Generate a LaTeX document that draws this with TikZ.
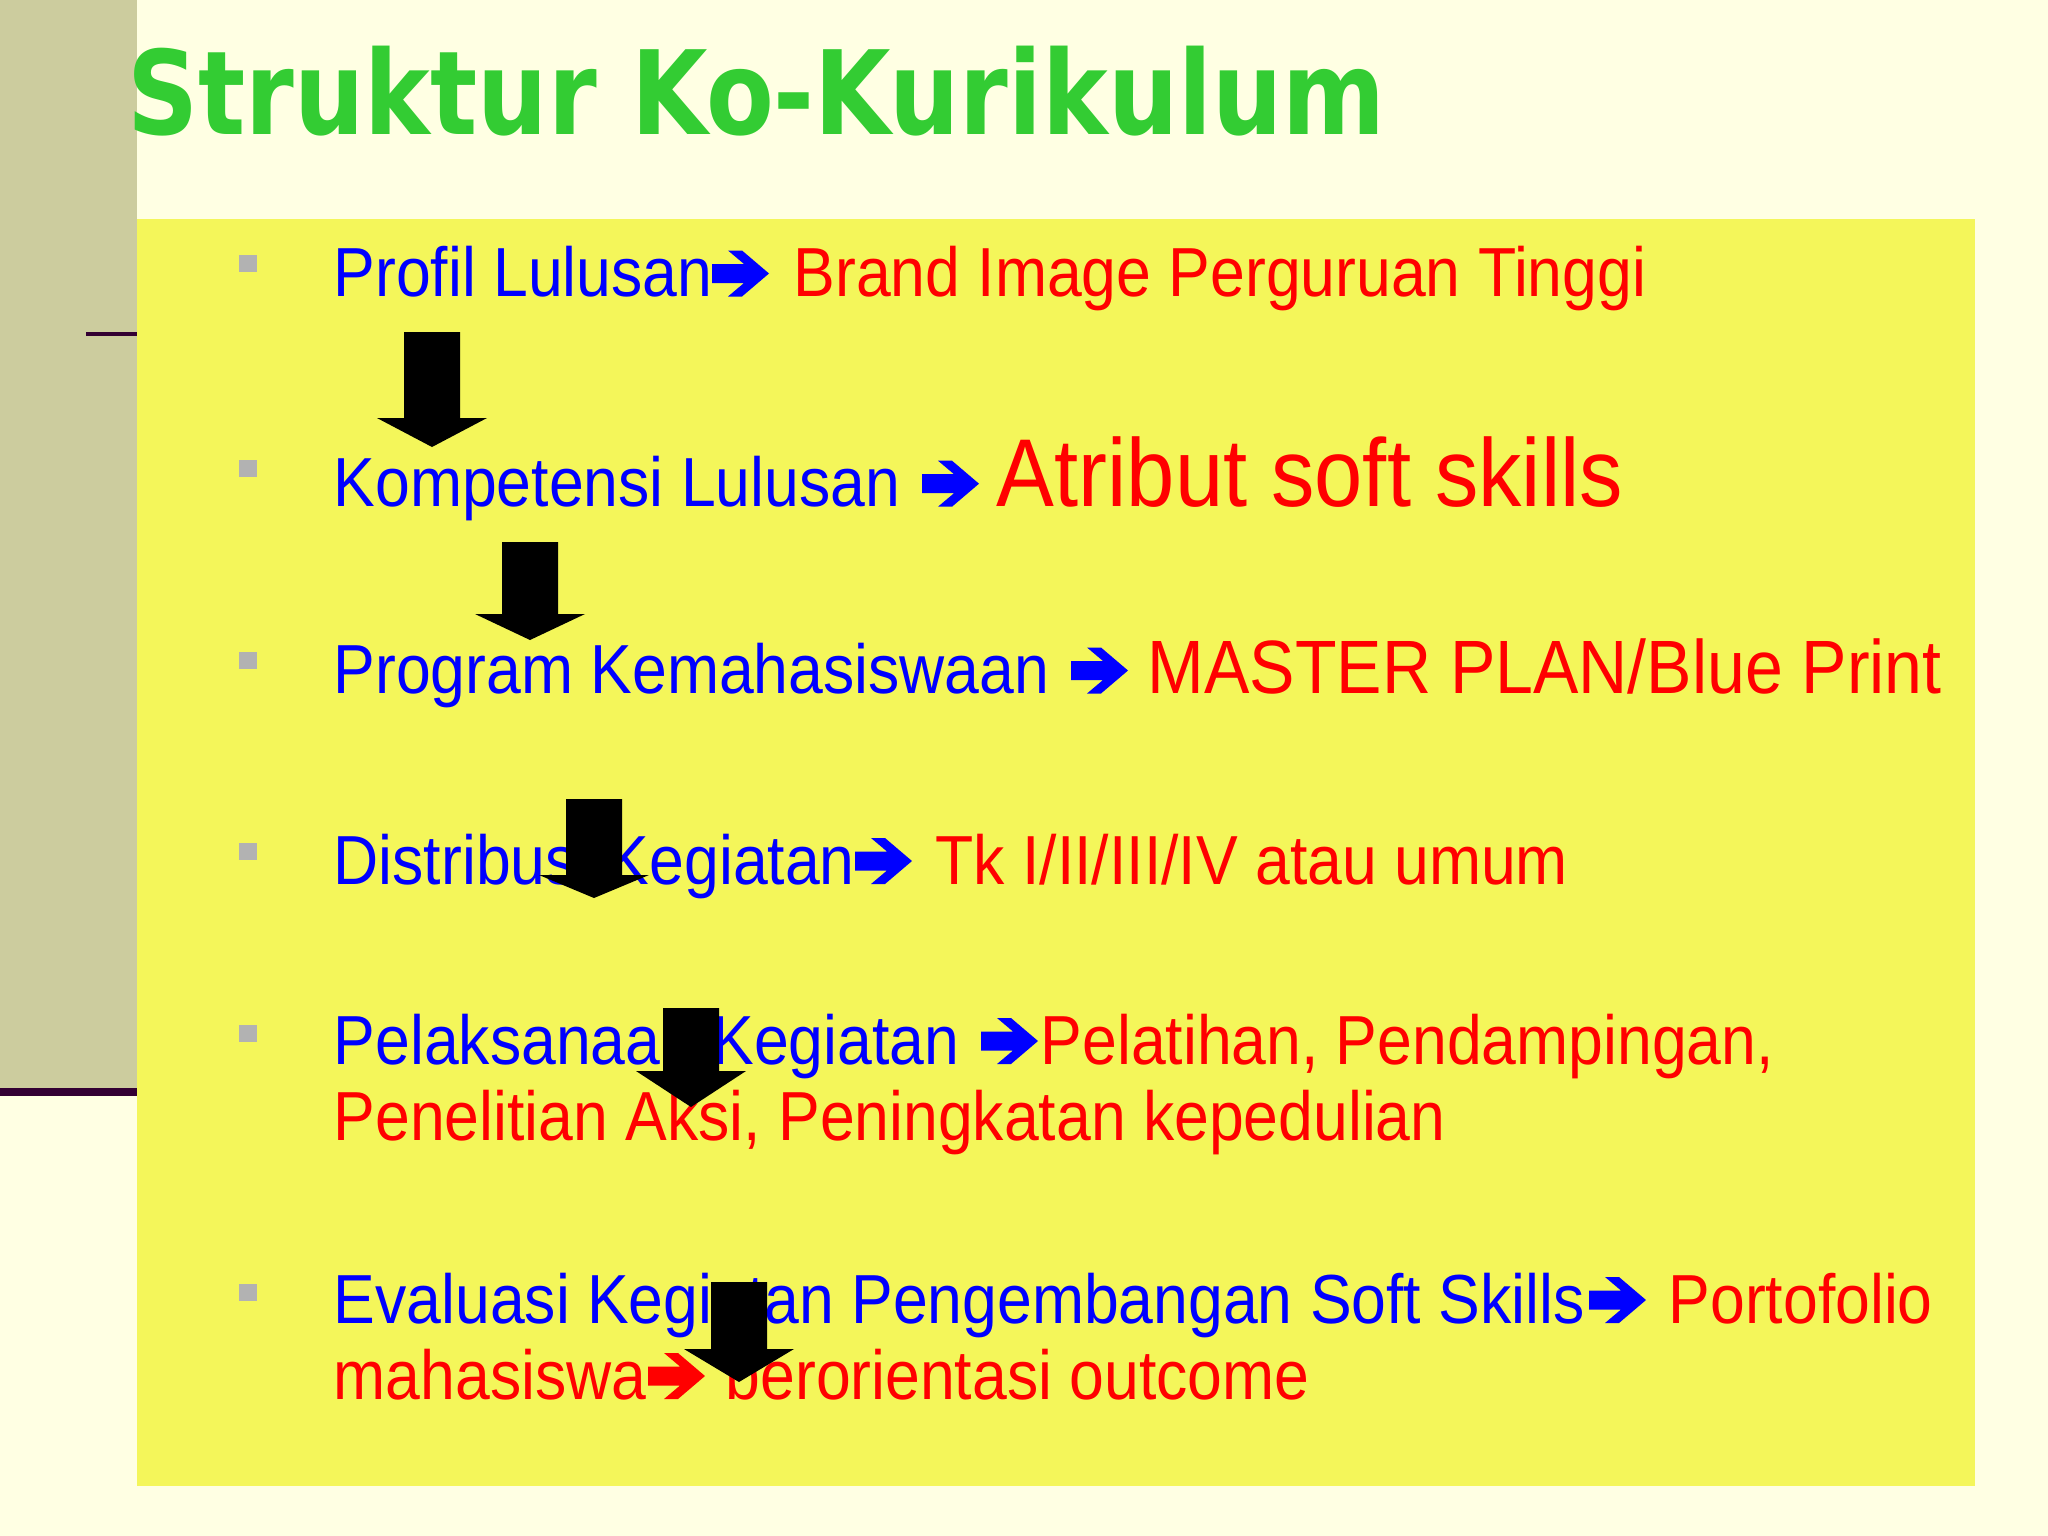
\documentclass[tikz,border=0pt]{standalone}
\usepackage{fontspec}
\usepackage{graphicx}
\setmainfont{Liberation Sans}
\newfontfamily\bodyfont[FakeStretch=0.9]{Liberation Sans}
\newfontfamily\titlefont{DejaVu Sans}
\definecolor{cream}{HTML}{FFFFE3}
\definecolor{tanpanel}{HTML}{CCCC9E}
\definecolor{darkbar}{HTML}{330033}
\definecolor{yellowbox}{HTML}{F4F65A}
\definecolor{titlegreen}{HTML}{33CC33}
\definecolor{txtblue}{HTML}{0000FF}
\definecolor{txtred}{HTML}{FF0000}
\definecolor{bulgray}{HTML}{B2B2B2}
% inline heavy arrow: name, x, baseline, colour
\newcommand\inarrow[4]{%
  \coordinate (#1) at (#2,#3);
  \begin{scope}[shift={(#2,#3)}]
  \fill[#4] (0,-32.5) -- (32,-32.5) -- (16,-46) -- (30,-46) -- (57,-23)
    -- (30,0) -- (16,0) -- (32,-13.5) -- (0,-13.5) -- cycle;
  \end{scope}}
\newcommand\blockarrow[4]{%
  \fill[black] ({#1-28},#2) -- ({#1+28},#2) -- ({#1+28},#3) -- ({#1+55},#3)
    -- (#1,#4) -- ({#1-55},#3) -- ({#1-28},#3) -- cycle;}
\tikzset{
  bl/.style={anchor=base west, inner sep=0, text=txtblue, font=\bodyfont\fontsize{19.75}{23}\selectfont},
  rd/.style={anchor=base west, inner sep=0, text=txtred, font=\bodyfont\fontsize{19.75}{23}\selectfont},
  rdmid/.style={rd, font=\bodyfont\fontsize{21.5}{25}\selectfont},
  rdbig/.style={rd, font=\bodyfont\fontsize{27.4}{32}\selectfont},
  bul/.style={rectangle, fill=bulgray, minimum size=0.17cm, inner sep=0},
}
\begin{document}
\begin{tikzpicture}[x=0.01cm, y=-0.01cm]
\useasboundingbox (0,0) rectangle (2048,1536);
\fill[cream] (0,0) rectangle (2048,1536);
\fill[tanpanel] (0,0) rectangle (137,1088);
\fill[darkbar] (0,1088) rectangle (137,1096);
\draw[darkbar, line width=1.2pt] (86,334) -- (137,334);
\fill[yellowbox] (137,219) rectangle (1975,1486);

\node[anchor=south west, inner sep=0, text=titlegreen] (title) at (127,137)
  {\resizebox*{12.57cm}{0.9cm}{\titlefont\bfseries Struktur Ko-Kurikulum}};

% bullets
\node[bul] (b1) at (248,263) {};
\node[bul] (b2) at (248,468) {};
\node[bul] (b3) at (248,660) {};
\node[bul] (b4) at (248,851) {};
\node[bul] (b5) at (248,1033) {};
\node[bul] (b6) at (248,1292) {};

% line 1
\node[bl] (t1) at (333,296.5) {Profil Lulusan};
\inarrow{a1}{712}{296.5}{txtblue}
\node[rd] (r1) at (793,296.5) {Brand Image Perguruan Tinggi};
% line 2
\node[bl] (t2) at (333,506.7) {Kompetensi Lulusan};
\inarrow{a2}{922}{506.7}{txtblue}
\node[rdbig] (r2) at (996,506.7) {Atribut soft skills};
% line 3
\node[bl] (t3) at (333,693.5) {Program Kemahasiswaan};
\inarrow{a3}{1071}{693.5}{txtblue}
\node[rdmid] (r3) at (1147,693.5) {MASTER PLAN/Blue Print};
% line 4
\node[bl] (t4) at (333,884) {Distribusi Kegiatan};
\inarrow{a4}{855}{884}{txtblue}
\node[rd] (r4) at (935,884) {Tk I/II/III/IV atau umum};
% line 5
\node[bl] (t5) at (333,1064) {Pelaksanaan Kegiatan};
\inarrow{a5}{981}{1064}{txtblue}
\node[rd] (r5) at (1040,1064) {Pelatihan, Pendampingan,};
\node[rd] (r5b) at (333,1140) {Penelitian Aksi, Peningkatan kepedulian};
% line 6
\node[bl] (t6) at (333,1323) {Evaluasi Kegiatan Pengembangan Soft Skills};
\inarrow{a6}{1589}{1323}{txtblue}
\node[rd] (r6) at (1668,1323) {Portofolio};
\node[rd] (r6b) at (333,1399) {mahasiswa};
\inarrow{a7}{648}{1399}{txtred}
\node[rd] (r6c) at (725,1399) {berorientasi outcome};

% block arrows
\blockarrow{432}{332}{418}{447}
\blockarrow{530}{542}{614}{640}
\blockarrow{594}{799}{875}{898}
\blockarrow{691}{1008}{1071}{1107}
\blockarrow{739}{1282}{1349}{1382}
\end{tikzpicture}
\end{document}
